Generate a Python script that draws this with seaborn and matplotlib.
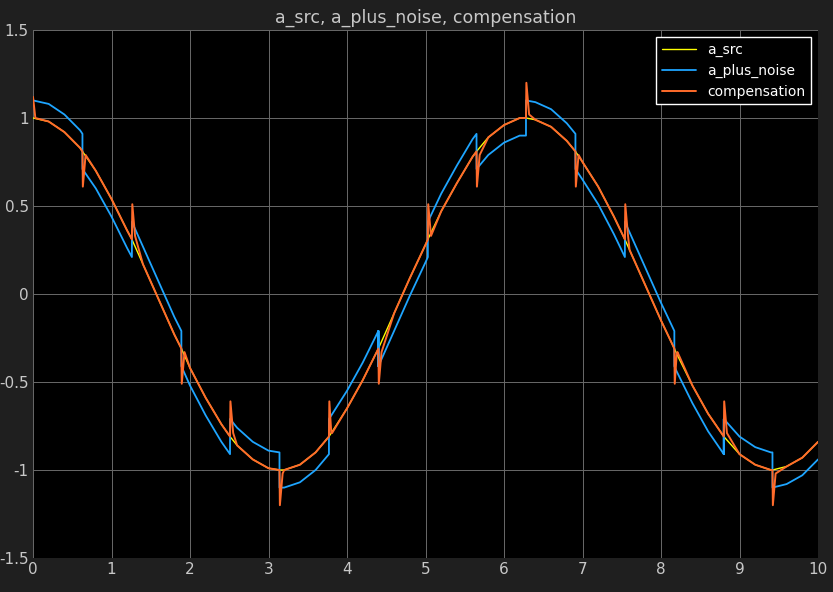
import numpy as np
import pandas as pd
import matplotlib.pyplot as plt
import seaborn as sns

# source signal (t step 0.2)
t_grid = [0.0, 0.2, 0.4, 0.6, 0.8, 1.0, 1.2, 1.4, 1.6, 1.8, 2.0, 2.2, 2.4, 2.6, 2.8, 3.0, 3.2, 3.4, 3.6, 3.8,
          4.0, 4.2, 4.4, 4.6, 4.8, 5.0, 5.2, 5.4, 5.6, 5.8, 6.0, 6.2, 6.4, 6.6, 6.8, 7.0, 7.2, 7.4, 7.6, 7.8,
          8.0, 8.2, 8.4, 8.6, 8.8, 9.0, 9.2, 9.4, 9.6, 9.8, 10.0]
src_grid = [1.00, 0.98, 0.92, 0.83, 0.70, 0.54, 0.36, 0.17, -0.03, -0.23, -0.42, -0.59, -0.74, -0.86, -0.94,
            -0.99, -1.00, -0.97, -0.90, -0.79, -0.65, -0.49, -0.31, -0.11, 0.09, 0.28, 0.47, 0.63, 0.78, 0.89,
            0.96, 1.00, 0.99, 0.95, 0.87, 0.75, 0.61, 0.44, 0.25, 0.05, -0.15, -0.34, -0.52, -0.68, -0.81,
            -0.91, -0.97, -1.00, -0.98, -0.93, -0.84]
# noise switching instants and signal level there
t_switch = [0.63, 1.26, 1.89, 2.51, 3.14, 3.77, 4.40, 5.03, 5.65, 6.28, 6.91, 7.54, 8.17, 8.80, 9.42]
src_switch = [0.81, 0.31, -0.31, -0.81, -1.00, -0.81, -0.31, 0.31, 0.81, 1.00, 0.81, 0.31, -0.31, -0.81, -1.00]
# noise offset in each segment
noise_levels = [0.1, -0.1, 0.1, -0.1, 0.1, -0.1, 0.1, -0.1, 0.1, -0.1, 0.1, -0.1, 0.1, -0.1, 0.1, -0.1]
# compensation spike peaks at each switch
spike_peaks = [0.61, 0.51, -0.51, -0.61, -1.20, -0.61, -0.51, 0.51, 0.61, 1.20, 0.61, 0.51, -0.51, -0.61, -1.20]
comp_start = 1.12

src = pd.DataFrame({'t': t_grid + t_switch, 'v': src_grid + src_switch}).sort_values('t').reset_index(drop=True)

# a_plus_noise: src + segment offset, with jumps at switches
rows = []
for t, v in zip(src['t'], src['v']):
    idx = int(np.searchsorted(t_switch, t, side='right'))
    if t in t_switch:
        rows.append((t, v + noise_levels[idx - 1]))
    rows.append((t, v + noise_levels[idx]))
noise = pd.DataFrame(rows, columns=['t', 'v'])

# compensation: src with short spikes
rows = [(0.0, comp_start), (0.03, src_grid[0])]
for t, v in zip(src['t'], src['v']):
    if t == 0.0:
        continue
    rows.append((t, v))
    if t in t_switch:
        k = t_switch.index(t)
        rows.append((t + 0.005, spike_peaks[k]))
        rows.append((t + 0.04, v + (spike_peaks[k] - v) * 0.1))
comp = pd.DataFrame(rows, columns=['t', 'v']).sort_values('t', kind='stable')

sns.set_theme(style="dark")
fig = plt.figure(figsize=(8.33, 5.92), dpi=100, facecolor='#1f1f1f')
ax = fig.add_axes([33 / 833, 34 / 592, 785 / 833, 528 / 592])
ax.set_facecolor('black')

sns.lineplot(data=src, x='t', y='v', ax=ax, color='#ffff00', lw=1.0, sort=False, estimator=None, label='a_src')
sns.lineplot(data=noise, x='t', y='v', ax=ax, color='#1ea5ff', lw=1.3, sort=False, estimator=None, label='a_plus_noise')
sns.lineplot(data=comp, x='t', y='v', ax=ax, color='#ff6b2b', lw=1.4, sort=False, estimator=None, label='compensation')

ax.set_xlim(0, 10)
ax.set_ylim(-1.5, 1.5)
ax.set_xticks(range(0, 11))
ax.set_yticks([-1.5, -1, -0.5, 0, 0.5, 1, 1.5])
ax.set_yticklabels(['-1.5', '-1', '-0.5', '0', '0.5', '1', '1.5'])
ax.grid(True, color='#6a6a6a', lw=0.7)
ax.set_xlabel('')
ax.set_ylabel('')
ax.tick_params(colors='#c8c8c8', labelsize=11, length=0, pad=3)
for s in ax.spines.values():
    s.set_visible(False)
ax.set_title('a_src, a_plus_noise, compensation', color='#c8c8c8', fontsize=12.5, pad=5)

leg = ax.legend(loc='upper right', facecolor='black', edgecolor='white', fontsize=10,
                framealpha=1, fancybox=False, borderpad=0.4, handlelength=2.5)
for txt in leg.get_texts():
    txt.set_color('white')

fig.savefig('out.png', dpi=100, facecolor=fig.get_facecolor())
